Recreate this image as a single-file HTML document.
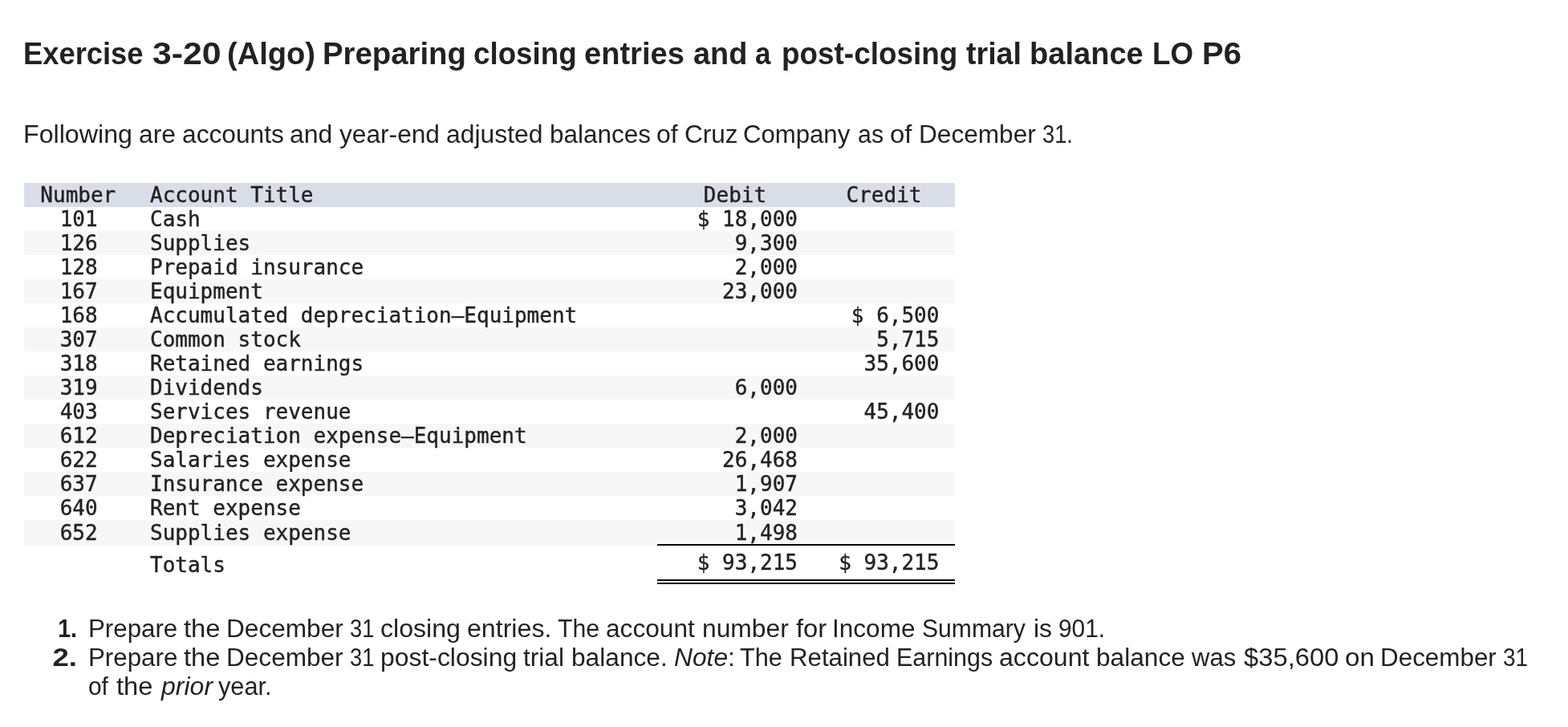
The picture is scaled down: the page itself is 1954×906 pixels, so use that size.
<!DOCTYPE html>
<html lang="en"><head><meta charset="utf-8"><title>Exercise 3-20</title>
<style>
html,body{margin:0;padding:0;background:#fff;}
body{width:1954px;height:906px;position:relative;overflow:hidden;color:#222;font-family:"Liberation Sans",sans-serif;}
.tt{font-family:"Liberation Sans",sans-serif;font-size:39.5px;line-height:46px;font-weight:bold;color:#222;}
.bd{font-family:"Liberation Sans",sans-serif;font-size:31px;line-height:36px;color:#222;}

.ln{position:absolute;left:0;margin:0;width:1954px;height:46px;white-space:pre;}
.w{position:absolute;top:0;display:block;transform-origin:0 0;white-space:pre;}
.abs{position:absolute;white-space:nowrap;}
.tbl{position:absolute;left:30px;top:228px;width:1160px;font-family:"DejaVu Sans Mono","Liberation Mono",monospace;font-size:26px;line-height:30px;-webkit-text-stroke:0.4px #222;}
.r{position:relative;height:30px;width:1160px;}
.r.h{background:#d9dde8;}
.r.s{background:#f7f7f7;}
.r span{position:absolute;top:0;white-space:pre;}
.n{left:1.2px;width:134px;text-align:center;}
.r.h .n{left:0.3px;}
.t{left:157px;}
.d{right:196px;text-align:right;}
.c{right:19.6px;text-align:right;}
.hd{left:789px;width:194px;text-align:center;}
.hc{left:983px;width:177px;text-align:center;}
.r.last{height:32px;line-height:32px;}
.tot{position:relative;height:42px;width:1160px;}
.tot span{position:absolute;top:6px;white-space:pre;}
.tot span.t{top:9px;}
.rule{position:absolute;left:819px;width:371px;background:#000;height:2px;}
.mk{font-weight:bold;width:26px;text-align:right;left:68.2px;}
</style></head><body>
<h1 class="ln tt" style="top:43px"><span class="w" style="left:29.48px;transform:scaleX(0.9200)">Exercise </span><span class="w" style="left:189.60px;transform:scaleX(1.0837)">3-20 </span><span class="w" style="left:283.17px;transform:scaleX(0.9641)">(Algo) </span><span class="w" style="left:401.65px;transform:scaleX(0.9699)">Preparing </span><span class="w" style="left:589.73px;transform:scaleX(0.9304)">closing </span><span class="w" style="left:728.49px;transform:scaleX(0.9640)">entries </span><span class="w" style="left:863.55px;transform:scaleX(0.9578)">and </span><span class="w" style="left:941.14px;transform:scaleX(0.8846)">a </span><span class="w" style="left:974.34px;transform:scaleX(0.9339)">post-closing </span><span class="w" style="left:1204.05px;transform:scaleX(0.9523)">trial </span><span class="w" style="left:1283.46px;transform:scaleX(0.9637)">balance </span><span class="w" style="left:1435.95px;transform:scaleX(0.9316)">LO </span><span class="w" style="left:1497.94px;transform:scaleX(1.0135)">P6</span></h1>
<p class="ln bd" style="top:150px"><span class="w" style="left:29.06px;transform:scaleX(1.0385)">Following </span><span class="w" style="left:172.81px;transform:scaleX(1.0269)">are </span><span class="w" style="left:226.71px;transform:scaleX(1.0226)">accounts </span><span class="w" style="left:361.40px;transform:scaleX(1.0301)">and </span><span class="w" style="left:422.73px;transform:scaleX(1.0213)">year-end </span><span class="w" style="left:555.60px;transform:scaleX(1.0277)">adjusted </span><span class="w" style="left:684.54px;transform:scaleX(1.0150)">balances </span><span class="w" style="left:818.24px;transform:scaleX(1.0328)">of </span><span class="w" style="left:852.79px;transform:scaleX(1.0164)">Cruz </span><span class="w" style="left:925.91px;transform:scaleX(1.0044)">Company </span><span class="w" style="left:1068.87px;transform:scaleX(0.9799)">as </span><span class="w" style="left:1108.80px;transform:scaleX(1.0613)">of </span><span class="w" style="left:1144.91px;transform:scaleX(1.0191)">December </span><span class="w" style="left:1299.32px;transform:scaleX(0.8806)">31.</span></p>
<div class="tbl">
<div class="r h"><span class="n">Number</span><span class="t">Account Title</span><span class="hd">Debit</span><span class="hc">Credit</span></div>
<div class="r"><span class="n">101</span><span class="t">Cash</span><span class="d">$ 18,000</span></div>
<div class="r s"><span class="n">126</span><span class="t">Supplies</span><span class="d">9,300</span></div>
<div class="r"><span class="n">128</span><span class="t">Prepaid insurance</span><span class="d">2,000</span></div>
<div class="r s"><span class="n">167</span><span class="t">Equipment</span><span class="d">23,000</span></div>
<div class="r"><span class="n">168</span><span class="t">Accumulated depreciation—Equipment</span><span class="c">$ 6,500</span></div>
<div class="r s"><span class="n">307</span><span class="t">Common stock</span><span class="c">5,715</span></div>
<div class="r"><span class="n">318</span><span class="t">Retained earnings</span><span class="c">35,600</span></div>
<div class="r s"><span class="n">319</span><span class="t">Dividends</span><span class="d">6,000</span></div>
<div class="r"><span class="n">403</span><span class="t">Services revenue</span><span class="c">45,400</span></div>
<div class="r s"><span class="n">612</span><span class="t">Depreciation expense—Equipment</span><span class="d">2,000</span></div>
<div class="r"><span class="n">622</span><span class="t">Salaries expense</span><span class="d">26,468</span></div>
<div class="r s"><span class="n">637</span><span class="t">Insurance expense</span><span class="d">1,907</span></div>
<div class="r"><span class="n">640</span><span class="t">Rent expense</span><span class="d">3,042</span></div>
<div class="r s last"><span class="n">652</span><span class="t">Supplies expense</span><span class="d">1,498</span></div>
<div class="tot"><span class="t">Totals</span><span class="d">$ 93,215</span><span class="c">$ 93,215</span></div>
</div>
<div class="rule" style="top:678px"></div>
<div class="rule" style="top:722px"></div>
<div class="rule" style="top:726px"></div>
<div class="abs bd mk" style="top:766px;left:69.7px;transform-origin:100% 0;transform:scaleX(0.92)">1.</div>
<div class="ln bd" style="top:766px"><span class="w" style="left:109.64px;transform:scaleX(1.0086)">Prepare </span><span class="w" style="left:229.01px;transform:scaleX(1.0579)">the </span><span class="w" style="left:281.81px;transform:scaleX(1.0191)">December </span><span class="w" style="left:436.32px;transform:scaleX(0.8815)">31 </span><span class="w" style="left:474.41px;transform:scaleX(1.0351)">closing </span><span class="w" style="left:581.61px;transform:scaleX(1.0365)">entries. </span><span class="w" style="left:695.13px;transform:scaleX(0.9745)">The </span><span class="w" style="left:755.42px;transform:scaleX(1.0202)">account </span><span class="w" style="left:874.66px;transform:scaleX(1.0255)">number </span><span class="w" style="left:991.84px;transform:scaleX(1.0586)">for </span><span class="w" style="left:1037.09px;transform:scaleX(1.0177)">Income </span><span class="w" style="left:1148.92px;transform:scaleX(0.9718)">Summary </span><span class="w" style="left:1287.77px;transform:scaleX(1.0286)">is </span><span class="w" style="left:1318.63px;transform:scaleX(0.9642)">901.</span></div>
<div class="abs bd mk" style="top:802px;left:70.2px;transform-origin:100% 0;transform:scaleX(1.18)">2.</div>
<div class="ln bd" style="top:802px"><span class="w" style="left:109.64px;transform:scaleX(1.0095)">Prepare </span><span class="w" style="left:229.01px;transform:scaleX(1.0531)">the </span><span class="w" style="left:281.81px;transform:scaleX(1.0183)">December </span><span class="w" style="left:436.22px;transform:scaleX(0.8815)">31 </span><span class="w" style="left:473.91px;transform:scaleX(1.0288)">post-closing </span><span class="w" style="left:652.43px;transform:scaleX(1.0200)">trial </span><span class="w" style="left:712.42px;transform:scaleX(1.0218)">balance. </span><span class="w" style="left:839.64px;transform:scaleX(1.0248)"><i>Note</i>: </span><span class="w" style="left:921.92px;transform:scaleX(0.9882)">The </span><span class="w" style="left:983.84px;transform:scaleX(1.0066)">Retained </span><span class="w" style="left:1116.51px;transform:scaleX(0.9826)">Earnings </span><span class="w" style="left:1244.79px;transform:scaleX(1.0351)">account </span><span class="w" style="left:1365.73px;transform:scaleX(1.0203)">balance </span><span class="w" style="left:1484.61px;transform:scaleX(1.0034)">was </span><span class="w" style="left:1549.52px;transform:scaleX(1.0564)">$35,600 </span><span class="w" style="left:1675.88px;transform:scaleX(1.0715)">on </span><span class="w" style="left:1719.63px;transform:scaleX(1.0126)">December </span><span class="w" style="left:1873.19px;transform:scaleX(0.9037)">31</span></div>
<div class="ln bd" style="top:838px"><span class="w" style="left:110.03px;transform:scaleX(0.9637)">of </span><span class="w" style="left:145.41px;transform:scaleX(1.0531)">the </span><span class="w" style="left:201.20px;transform:scaleX(1.0335)"><i>prior</i> </span><span class="w" style="left:272.04px;transform:scaleX(0.9918)">year.</span></div>
</body></html>
